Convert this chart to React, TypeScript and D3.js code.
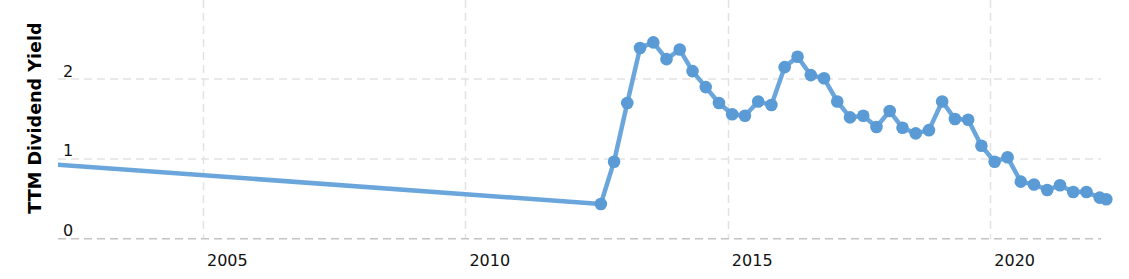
import React from "react";
import * as d3 from "d3";

const earlyDates = ["2002-01-31"];
const earlyValues = [0.935];

const quarterDates = [
  "2012-07-31", "2012-10-31",
  "2013-01-31", "2013-04-30", "2013-07-31", "2013-10-31",
  "2014-01-31", "2014-04-30", "2014-07-31", "2014-10-31",
  "2015-01-31", "2015-04-30", "2015-07-31", "2015-10-31",
  "2016-01-31", "2016-04-30", "2016-07-31", "2016-10-31",
  "2017-01-31", "2017-04-30", "2017-07-31", "2017-10-31",
  "2018-01-31", "2018-04-30", "2018-07-31", "2018-10-31",
  "2019-01-31", "2019-04-30", "2019-07-31", "2019-10-31",
  "2020-01-31", "2020-04-30", "2020-07-31", "2020-10-31",
  "2021-01-31", "2021-04-30", "2021-07-31", "2021-10-31",
  "2022-01-31", "2022-03-18",
];
const quarterValues = [
  0.435, 0.965,
  1.70, 2.39, 2.46, 2.25,
  2.37, 2.10, 1.90, 1.70,
  1.56, 1.54, 1.72, 1.675,
  2.15, 2.28, 2.05, 2.01,
  1.72, 1.52, 1.54, 1.40,
  1.60, 1.39, 1.32, 1.36,
  1.72, 1.50, 1.49, 1.165,
  0.965, 1.02, 0.715, 0.68,
  0.61, 0.67, 0.585, 0.585,
  0.515, 0.495,
];

const xTickYears = [2005, 2010, 2015, 2020];
const yTickValues = [0, 1, 2, 3];
const yTickLabels = ["0", "1", "2", ""];
const yAxisTitle = "TTM Dividend Yield";

const W = 1129;
const H = 279;
const plotLeft = 58;
const plotRight = 1101;
const plotTop = 0;
const plotBottom = 239;

export default function App() {
  const parse = d3.timeParse("%Y-%m-%d");
  const points = [
    ...earlyDates.map((d, i) => ({ date: parse(d) as Date, value: earlyValues[i] })),
    ...quarterDates.map((d, i) => ({ date: parse(d) as Date, value: quarterValues[i] })),
  ];

  const x = d3
    .scaleTime()
    .domain([new Date(2005, 0, 1), new Date(2020, 0, 1)])
    .range([203, 990.3]);
  const y = d3.scaleLinear().domain([0, 3]).range([238.7, -0.7]);

  const line = d3
    .line<{ date: Date; value: number }>()
    .x((d) => x(d.date))
    .y((d) => y(d.value));

  const font = "'DejaVu Sans', Verdana, sans-serif";

  return (
    <svg
      width={W}
      height={H}
      style={{ position: "absolute", left: 0, top: 0, background: "#fff" }}
    >
      <defs>
        <clipPath id="plotClip">
          <rect x={plotLeft} y={-20} width={W - plotLeft} height={H + 40} />
        </clipPath>
      </defs>
      {xTickYears.map((yr) => {
        const xx = Math.round(x(new Date(yr, 0, 1))) + 0.5;
        return (
          <line
            key={"vg" + yr}
            x1={xx}
            x2={xx}
            y1={plotTop}
            y2={plotBottom}
            stroke="#e2e2e2"
            strokeWidth={1.5}
            strokeDasharray="8,5"
          />
        );
      })}
      {yTickValues.map((v) => {
        const yy = y(v);
        return (
          <line
            key={"hg" + v}
            x1={plotLeft}
            x2={plotRight}
            y1={yy}
            y2={yy}
            stroke={v === 0 ? "#c4c4c4" : "#e2e2e2"}
            strokeWidth={1.5}
            strokeDasharray="8,5"
          />
        );
      })}
      {yTickValues.map((v, i) => (
        <text
          key={"yl" + v}
          x={63}
          y={y(v) - 2.5}
          fontFamily={font}
          fontSize={16}
          fill="#111"
        >
          {yTickLabels[i]}
        </text>
      ))}
      {xTickYears.map((yr) => (
        <text
          key={"xl" + yr}
          x={x(new Date(yr, 0, 1)) + 4}
          y={266}
          fontFamily={font}
          fontSize={16}
          fill="#111"
        >
          {String(yr)}
        </text>
      ))}
      <text
        transform={`translate(40.5,118) rotate(-90)`}
        textAnchor="middle"
        fontFamily={font}
        fontSize={17.6}
        fontWeight="bold"
        fill="#000"
      >
        {yAxisTitle}
      </text>
      <g clipPath="url(#plotClip)">
        <path
          d={line(points) || ""}
          fill="none"
          stroke="#6aa6dc"
          strokeWidth={4.5}
          strokeLinejoin="round"
        />
        {points.map((p, i) => (
          <circle
            key={"pt" + i}
            cx={x(p.date)}
            cy={y(p.value)}
            r={6.3}
            fill="#5b9bd5"
            opacity={i < earlyDates.length ? 0 : 1}
          />
        ))}
      </g>
    </svg>
  );
}
